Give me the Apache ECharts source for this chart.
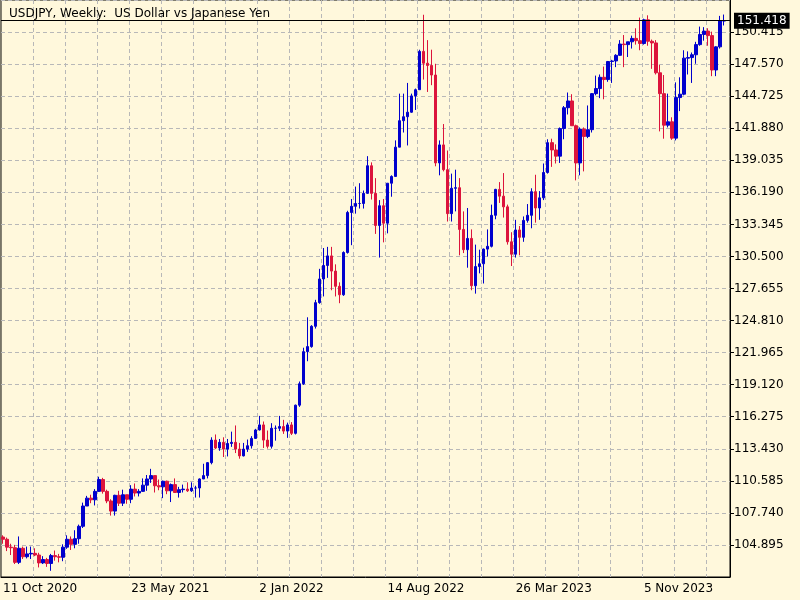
<!DOCTYPE html>
<html>
<head>
  <meta charset="utf-8">
</head>
<body style="height: 100%; margin: 0">
  <div id="container" style="width: 800px; height: 600px"></div>
  <script src="https://fastly.jsdelivr.net/npm/echarts@6/dist/echarts.min.js"></script>
  <script>
    // weekly USDJPY, first week starts 11 Oct 2020
    var startDate = new Date(Date.UTC(2020, 9, 11));
    var opens = [105.6,105.4,104.7,104.65,103.35,104.6,103.85,104.1,104.15,104.0,103.3,103.6,
      103.25,103.95,103.85,103.8,104.7,105.4,104.95,105.45,106.55,108.35,109.05,108.9,109.65,110.7,109.65,108.8,107.9,109.3,108.6,109.35,108.95,109.85,109.5,109.65,110.2,110.75,111.05,110.15,110.05,110.55,109.7,110.25,109.55,109.8,109.85,109.7,109.95,109.95,110.75,111.05,112.2,114.2,113.5,114.0,113.4,113.9,114.0,113.4,112.8,113.4,113.7,114.35,
      115.1,115.55,114.2,113.65,115.25,115.25,115.4,115.0,115.55,114.8,117.3,119.2,122.05,122.5,124.3,126.4,128.5,129.7,130.55,129.2,127.85,127.1,130.85,134.4,134.95,135.2,135.2,136.1,138.55,136.1,133.25,135.0,133.45,137.0,137.6,140.2,142.55,142.9,143.3,144.75,145.3,148.7,147.65,147.45,146.6,138.8,140.4,138.2,134.3,136.55,136.6,132.9,
      131.1,132.1,127.9,129.6,129.85,131.15,131.4,134.15,136.45,135.85,134.9,131.8,130.7,132.85,132.2,133.7,134.15,136.25,134.8,135.7,137.95,140.6,139.95,139.4,141.85,143.7,144.3,142.1,138.8,141.8,141.15,141.75,144.95,145.4,146.4,146.2,147.8,147.85,148.35,149.35,149.3,149.55,149.85,149.65,149.4,151.5,149.6,149.45,146.8,144.95,142.15,142.45,
      141.0,144.6,144.9,148.1,148.15,148.4,149.3,150.2,150.5,150.1,147.05,149.1,151.4];
    var highs = [105.75,105.55,105.0,104.9,105.65,104.75,104.75,104.75,104.6,104.2,103.9,103.75,
      104.1,104.4,104.1,104.95,105.75,105.65,106.2,106.7,108.65,109.25,109.35,109.85,110.95,110.85,109.8,108.95,109.35,109.7,109.8,109.35,110.2,110.35,109.85,110.8,111.1,111.65,111.05,110.7,110.6,110.6,110.35,110.8,110.05,110.25,110.45,110.45,110.15,110.8,112.1,112.25,114.45,114.7,114.3,114.45,114.3,114.95,115.5,113.95,113.95,114.25,114.55,115.2,
      116.35,115.85,115.05,115.7,115.5,116.35,116.0,115.75,115.8,117.35,119.4,122.4,125.1,124.4,126.65,129.4,131.25,131.35,131.35,129.8,128.2,130.95,134.55,135.6,136.7,137.0,136.35,139.4,138.85,137.45,135.5,135.6,137.0,137.7,140.8,144.95,144.95,145.9,144.95,145.4,148.85,151.95,149.7,148.85,147.6,140.8,142.25,139.9,137.85,138.2,137.45,134.5,
      134.8,132.9,131.55,131.1,131.2,132.9,135.1,136.5,137.1,137.9,135.1,132.65,133.75,133.2,134.05,135.15,136.55,137.75,136.3,138.75,140.9,140.95,140.45,141.95,143.85,145.05,144.9,142.2,141.95,141.95,143.9,145.0,146.55,146.65,147.35,147.85,147.95,148.45,149.7,150.15,149.55,150.1,150.75,151.7,151.6,151.9,149.75,149.7,147.5,146.6,144.95,142.85,
      145.95,146.4,148.8,148.7,148.6,149.55,150.9,150.85,150.75,150.45,149.15,151.85,151.97];
    var lows = [105.0,104.35,104.0,103.2,103.2,103.65,103.7,103.65,103.9,102.9,103.2,102.95,
      102.6,103.5,103.35,103.45,104.55,104.45,104.6,105.0,106.4,108.35,108.6,108.4,109.6,109.45,108.6,107.5,107.5,108.35,108.35,108.55,108.6,109.2,109.2,109.6,109.7,110.4,109.55,109.75,109.05,109.4,108.7,109.55,109.1,109.55,109.6,109.6,109.1,109.1,110.75,110.8,112.05,113.4,113.25,112.7,112.75,113.6,113.05,112.55,112.75,113.15,113.45,114.3,
      115.05,113.5,113.45,113.45,114.15,115.0,114.75,114.4,114.65,114.7,117.15,119.1,121.2,122.4,124.1,126.3,126.95,128.6,127.5,126.95,126.35,127.0,130.75,131.5,134.3,134.75,134.75,136.05,135.55,132.5,130.4,131.75,132.55,135.8,137.6,140.2,141.5,140.35,143.25,143.5,145.3,146.2,145.1,145.7,138.5,137.7,138.05,133.6,133.6,134.5,130.6,130.8,
      129.5,127.5,127.2,129.0,128.1,130.5,131.3,133.8,135.25,133.95,131.55,129.65,130.4,130.6,131.8,133.5,133.0,133.5,133.75,135.5,137.85,138.45,138.75,138.8,140.9,143.1,142.1,137.25,137.7,138.05,141.0,141.5,144.8,144.55,144.45,146.0,145.9,147.3,148.3,147.3,148.2,148.95,149.3,148.8,149.3,149.2,147.15,146.65,141.6,140.95,141.95,140.85,
      140.8,143.4,144.8,146.65,145.9,147.6,149.2,149.65,149.2,146.5,146.5,148.95,151.0];
    var closes = [105.4,104.7,104.65,103.35,104.6,103.85,104.1,104.15,104.0,103.3,103.6,103.25,
      103.95,103.85,103.8,104.7,105.4,104.95,105.45,106.55,108.35,109.05,108.9,109.65,110.7,109.65,108.8,107.9,109.3,108.6,109.35,108.95,109.85,109.5,109.65,110.2,110.75,111.05,110.15,110.05,110.55,109.7,110.25,109.55,109.8,109.85,109.7,109.95,109.95,110.75,111.05,112.2,114.2,113.5,114.0,113.4,113.9,114.0,113.4,112.8,113.4,113.7,114.35,115.1,
      115.55,114.2,113.65,115.25,115.25,115.4,115.0,115.55,114.8,117.3,119.2,122.05,122.5,124.3,126.4,128.5,129.7,130.55,129.2,127.85,127.1,130.85,134.4,134.95,135.2,135.2,136.1,138.55,136.1,133.25,135.0,133.45,137.0,137.6,140.2,142.55,142.9,143.3,144.75,145.3,148.7,147.65,147.45,146.6,138.8,140.4,138.2,134.3,136.55,136.6,132.9,131.1,
      132.1,127.9,129.6,129.85,131.15,131.4,134.15,136.45,135.85,134.9,131.8,130.7,132.85,132.2,133.7,134.15,136.25,134.8,135.7,137.95,140.6,139.95,139.4,141.85,143.7,144.3,142.1,138.8,141.8,141.15,141.75,144.95,145.4,146.4,146.2,147.8,147.85,148.35,149.35,149.3,149.55,149.85,149.65,149.4,151.5,149.6,149.45,146.8,144.95,142.15,142.45,141.0,
      144.6,144.9,148.1,148.15,148.4,149.3,150.2,150.5,150.1,147.05,149.1,151.4,151.418];
    var lastPrice = 151.418;
    var yMin = 102.05, yStep = 2.845, yMax = 153.26;

    var months = ['Jan','Feb','Mar','Apr','May','Jun','Jul','Aug','Sep','Oct','Nov','Dec'];
    var categories = [];
    var candles = [];
    for (var i = 0; i < closes.length; i++) {
      var d = new Date(startDate.getTime() + i * 7 * 86400000);
      categories.push(d.getUTCDate() + ' ' + months[d.getUTCMonth()] + ' ' + d.getUTCFullYear());
      candles.push([opens[i], closes[i], lows[i], highs[i]]);
    }
    categories.push('');
    candles.push('-');

    var myChart = echarts.init(document.getElementById('container'), null, { renderer: 'canvas' });
    var option = {
      backgroundColor: '#FFF8DC',
      animation: false,
      title: {
        text: 'USDJPY, Weekly:  US Dollar vs Japanese Yen',
        left: 4, top: 3,
        textStyle: { fontSize: 12, fontWeight: 'normal', color: '#000', fontFamily: 'DejaVu Sans' }
      },
      grid: { left: 0, right: 70, top: 0, bottom: 23, show: true, borderColor: '#000', borderWidth: 1 },
      xAxis: {
        type: 'category',
        data: categories,
        axisLine: { lineStyle: { color: '#000' } },
        axisTick: { show: false },
        axisLabel: {
          interval: function (idx) { return idx % 32 === 0; },
          align: 'left', margin: 6,
          color: '#000', fontSize: 12, fontFamily: 'DejaVu Sans'
        },
        splitLine: {
          show: true,
          interval: function (idx) { return idx % 8 === 0 && idx > 0; },
          lineStyle: { color: '#b8b8b8', type: [4, 3] }
        }
      },
      yAxis: {
        type: 'value',
        position: 'right',
        min: yMin, max: yMax, interval: yStep,
        axisLine: { show: true, lineStyle: { color: '#000' } },
        axisTick: { show: true, length: 4, lineStyle: { color: '#000' } },
        axisLabel: {
          showMinLabel: false, showMaxLabel: false,
          formatter: function (v) { return v.toFixed(3); },
          color: '#000', fontSize: 12, fontFamily: 'DejaVu Sans', margin: 4
        },
        splitLine: { show: true, lineStyle: { color: '#b8b8b8', type: [4, 3] } }
      },
      series: [{
        type: 'candlestick',
        data: candles,
        barWidth: 3,
        itemStyle: {
          color: '#0000CD', color0: '#DC143C',
          borderColor: '#0000CD', borderColor0: '#DC143C', borderWidth: 1
        },
        markLine: {
          silent: true,
          symbol: 'none',
          lineStyle: { color: '#000', type: 'solid', width: 1 },
          label: {
            position: 'end',
            formatter: lastPrice.toFixed(3),
            backgroundColor: '#000', color: '#fff',
            fontSize: 12, fontFamily: 'DejaVu Sans', padding: [2, 3], distance: 4
          },
          data: [{ yAxis: lastPrice }]
        }
      }]
    };
    myChart.setOption(option);
  </script>
</body>
</html>
